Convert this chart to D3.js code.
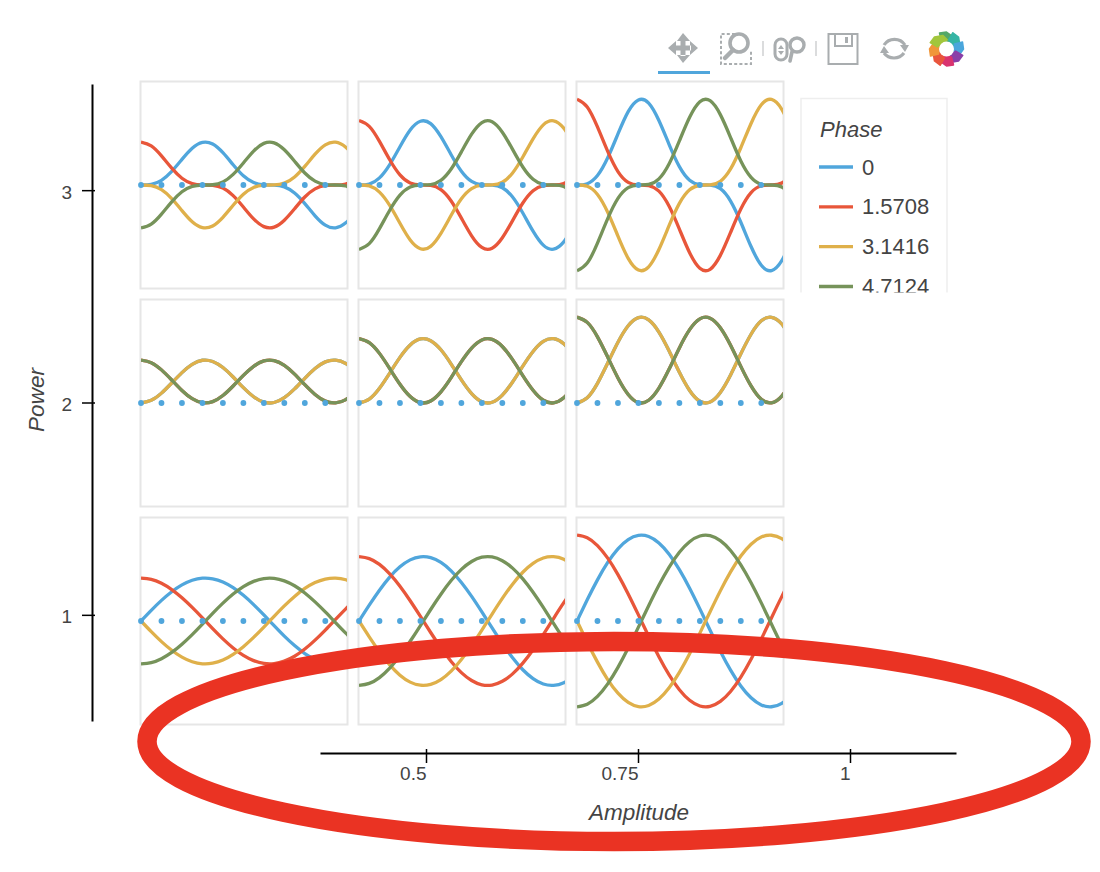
<!DOCTYPE html>
<html>
<head>
<meta charset="utf-8">
<script src="https://cdn.jsdelivr.net/npm/d3@7"></script>
<style>
html, body { margin: 0; padding: 0; background: #fff; }
text { font-family: "Liberation Sans", Arial, sans-serif; fill: #444; }
</style>
</head>
<body>
<div id="chart"></div>
<script>
// sample positions shared by every curve
var xs = [0, .25, .5, .75, 1, 1.25, 1.5, 1.75, 2, 2.25, 2.5, 2.75, 3, 3.25, 3.5, 3.75, 4, 4.25, 4.5, 4.75, 5, 5.25]
var dotXs = [0, .5, 1, 1.5, 2, 2.5, 3, 3.5, 4, 4.5]

var amplitudes = [0.5, 0.75, 1]
var powers = [3, 2, 1]
var phases = ['0', '1.5708', '3.1416', '4.7124']
var phaseColors = ['#50a6dc', '#e8563a', '#dfb04a', '#76935a']

// power 1
var p1a50Blue = [0, .124, .240, .341, .421, .475, .499, .492, .455, .389, .299, .191, .071, -.054, -.176, -.286, -.379, -.448, -.489, -.500, -.480, -.430]
var p1a50Red = [.500, .485, .439, .366, .270, .158, .036, -.089, -.208, -.314, -.401, -.462, -.495, -.497, -.468, -.411, -.327, -.223, -.106, .019, .142, .256]
var p1a50Yellow = [0, -.124, -.240, -.341, -.421, -.475, -.499, -.492, -.455, -.389, -.299, -.191, -.071, .054, .176, .286, .379, .448, .489, .500, .480, .430]
var p1a50Green = [-.500, -.485, -.439, -.366, -.270, -.158, -.036, .089, .208, .314, .401, .462, .495, .497, .468, .411, .327, .223, .106, -.019, -.142, -.256]

var p1a75Blue = [0, .185, .359, .512, .631, .712, .748, .738, .682, .584, .449, .287, .106, -.081, -.263, -.429, -.568, -.671, -.734, -.749, -.719, -.644]
var p1a75Red = [.750, .727, .659, .549, .405, .236, .053, -.134, -.312, -.471, -.601, -.693, -.743, -.746, -.702, -.616, -.491, -.335, -.158, .029, .213, .384]
var p1a75Yellow = [0, -.185, -.359, -.512, -.631, -.712, -.748, -.738, -.682, -.584, -.449, -.287, -.106, .081, .263, .429, .568, .671, .734, .749, .719, .644]
var p1a75Green = [-.750, -.727, -.659, -.549, -.405, -.236, -.053, .134, .312, .471, .601, .693, .743, .746, .702, .616, .491, .335, .158, -.029, -.213, -.384]

var p1a100Blue = [0, .247, .479, .682, .841, .949, .997, .984, .909, .778, .598, .382, .141, -.108, -.351, -.572, -.757, -.895, -.978, -.999, -.959, -.859]
var p1a100Red = [1, .969, .878, .732, .540, .315, .071, -.178, -.416, -.628, -.801, -.924, -.990, -.994, -.936, -.821, -.654, -.446, -.211, .038, .284, .512]
var p1a100Yellow = [0, -.247, -.479, -.682, -.841, -.949, -.997, -.984, -.909, -.778, -.598, -.382, -.141, .108, .351, .572, .757, .895, .978, .999, .959, .859]
var p1a100Green = [-1, -.969, -.878, -.732, -.540, -.315, -.071, .178, .416, .628, .801, .924, .990, .994, .936, .821, .654, .446, .211, -.038, -.284, -.512]

// power 2, yellow sits on blue and green sits on red
var p2a50Blue = [0, .031, .115, .233, .354, .450, .498, .484, .413, .303, .179, .073, .010, .006, .062, .164, .287, .401, .479, .499, .460, .369]
var p2a50Red = [.500, .470, .386, .268, .146, .050, .003, .016, .087, .198, .321, .427, .490, .494, .439, .337, .214, .100, .022, .001, .040, .131]
var p2a75Blue = [0, .046, .172, .349, .531, .675, .746, .726, .620, .454, .269, .110, .015, .009, .092, .245, .430, .601, .718, .749, .690, .554]
var p2a75Red = [.750, .704, .578, .401, .219, .075, .004, .024, .130, .296, .482, .640, .735, .741, .658, .505, .320, .149, .032, .001, .060, .197]
var p2a100Blue = [0, .061, .229, .465, .708, .900, .995, .968, .826, .605, .358, .146, .020, .012, .123, .327, .573, .801, .957, .998, .920, .738]
var p2a100Red = [1, .939, .771, .535, .292, .100, .005, .032, .174, .395, .642, .854, .980, .988, .877, .673, .427, .199, .043, .002, .080, .262]

// power 3
var p3a50Blue = [0, .008, .055, .159, .298, .428, .496, .477, .376, .236, .107, .028, .002, -.001, -.022, -.094, -.217, -.359, -.468, -.499, -.441, -.317]
var p3a50Red = [.500, .455, .339, .196, .079, .016, 0, -.003, -.036, -.124, -.257, -.395, -.485, -.491, -.410, -.277, -.140, -.045, -.005, 0, .012, .067]
var p3a50Yellow = [0, -.008, -.055, -.159, -.298, -.428, -.496, -.477, -.376, -.236, -.107, -.028, -.002, .001, .022, .094, .217, .359, .468, .499, .441, .317]
var p3a50Green = [-.500, -.455, -.339, -.196, -.079, -.016, 0, .003, .036, .124, .257, .395, .485, .491, .410, .277, .140, .045, .005, 0, -.012, -.067]

var p3a75Blue = [0, .011, .083, .238, .446, .641, .743, .715, .563, .353, .161, .042, .002, -.001, -.032, -.140, -.326, -.538, -.701, -.748, -.662, -.476]
var p3a75Red = [.750, .683, .508, .294, .118, .023, 0, -.005, -.054, -.186, -.386, -.592, -.728, -.737, -.615, -.415, -.210, -.067, -.007, 0, .017, .101]
var p3a75Yellow = [0, -.011, -.083, -.238, -.446, -.641, -.743, -.715, -.563, -.353, -.161, -.042, -.002, .001, .032, .140, .326, .538, .701, .748, .662, .476]
var p3a75Green = [-.750, -.683, -.508, -.294, -.118, -.023, 0, .005, .054, .186, .386, .592, .728, .737, .615, .415, .210, .067, .007, 0, -.017, -.101]

var p3a100Blue = [0, .015, .110, .317, .595, .855, .991, .953, .751, .471, .214, .056, .003, -.001, -.043, -.187, -.434, -.717, -.935, -.997, -.882, -.634]
var p3a100Red = [1, .910, .677, .392, .157, .031, 0, -.006, -.072, -.248, -.514, -.789, -.970, -.982, -.820, -.553, -.280, -.089, -.009, 0, .023, .134]
var p3a100Yellow = [0, -.015, -.110, -.317, -.595, -.855, -.991, -.953, -.751, -.471, -.214, -.056, -.003, .001, .043, .187, .434, .717, .935, .997, .882, .634]
var p3a100Green = [-1, -.910, -.677, -.392, -.157, -.031, 0, .006, .072, .248, .514, .789, .970, .982, .820, .553, .280, .089, .009, 0, -.023, -.134]

// rows top to bottom (power 3, 2, 1), columns left to right (amplitude)
var panelSeries = [
    [[p3a50Blue, p3a50Red, p3a50Yellow, p3a50Green], [p3a75Blue, p3a75Red, p3a75Yellow, p3a75Green], [p3a100Blue, p3a100Red, p3a100Yellow, p3a100Green]],
    [[p2a50Blue, p2a50Red, p2a50Blue, p2a50Red], [p2a75Blue, p2a75Red, p2a75Blue, p2a75Red], [p2a100Blue, p2a100Red, p2a100Blue, p2a100Red]],
    [[p1a50Blue, p1a50Red, p1a50Yellow, p1a50Green], [p1a75Blue, p1a75Red, p1a75Yellow, p1a75Green], [p1a100Blue, p1a100Red, p1a100Yellow, p1a100Green]]
]

var width = 1100, height = 872
var panelSize = 206, panelStep = 218, panelLeft = 141, panelTop = 82

var svg = d3.select('#chart').append('svg')
    .attr('width', width)
    .attr('height', height)
    .style('display', 'block')

var defs = svg.append('defs')
defs.append('clipPath').attr('id', 'panelClip')
    .append('rect').attr('width', panelSize).attr('height', panelSize)
defs.append('clipPath').attr('id', 'legendClip')
    .append('rect').attr('x', 795).attr('y', 90).attr('width', 160).attr('height', 202.5)

var x = d3.scaleLinear().domain([0, 5.03]).range([0, panelSize])
var y = d3.scaleLinear().domain([-1.2, 1.2]).range([panelSize, 0])
var line = d3.line()
    .x(function(d) { return x(d[0]) })
    .y(function(d) { return y(d[1]) })
    .curve(d3.curveNatural)

panelSeries.forEach(function(row, r) {
    row.forEach(function(series, c) {
        var g = svg.append('g')
            .attr('class', 'panel')
            .attr('transform', 'translate(' + (panelLeft + c * panelStep) + ',' + (panelTop + r * panelStep) + ')')

        g.append('rect')
            .attr('x', -0.5).attr('y', -0.5)
            .attr('width', panelSize + 1).attr('height', panelSize + 1)
            .attr('fill', '#fff')
            .attr('stroke', '#e6e6e6')
            .attr('stroke-width', 2)

        var inner = g.append('g').attr('clip-path', 'url(#panelClip)')

        inner.selectAll('path')
            .data(series)
            .enter()
            .append('path')
            .attr('d', function(vals) {
                return line(vals.map(function(v, i) { return [xs[i], v] }))
            })
            .attr('fill', 'none')
            .attr('stroke', function(d, i) { return phaseColors[i] })
            .attr('stroke-width', 3.3)

        g.selectAll('circle')
            .data(dotXs)
            .enter()
            .append('circle')
            .attr('cx', function(d) { return x(d) })
            .attr('cy', y(0))
            .attr('r', 2.9)
            .attr('fill', phaseColors[0])
    })
})

// outer axes
var powerScale = d3.scaleLinear().domain([0.5, 3.5]).range([721, 84])
var ampScale = d3.scaleLinear().domain([0.375, 1.125]).range([320, 956])

var leftAxis = svg.append('g')
    .attr('transform', 'translate(92,0)')
    .call(d3.axisLeft(powerScale).tickValues(powers).tickFormat(d3.format('d')).tickSize(10).tickSizeOuter(0))
leftAxis.select('.domain').attr('stroke', '#000').attr('stroke-width', 2)
leftAxis.selectAll('.tick line').attr('stroke', '#000').attr('stroke-width', 1.5).attr('x2', -10).attr('x1', 3)
leftAxis.selectAll('.tick text')
    .attr('x', -20).attr('dy', '0.42em')
    .style('font-size', '19px')
    .style('font-family', '"Liberation Sans", Arial, sans-serif')
    .attr('fill', '#444')

var bottomAxis = svg.append('g')
    .attr('transform', 'translate(0,753)')
    .call(d3.axisBottom(ampScale).tickValues(amplitudes).tickFormat(function(d) { return String(d) }).tickSize(10).tickSizeOuter(0))
bottomAxis.select('.domain').attr('stroke', '#000').attr('stroke-width', 2)
bottomAxis.selectAll('.tick line').attr('stroke', '#000').attr('stroke-width', 1.5).attr('y1', -4).attr('y2', 10)
bottomAxis.selectAll('.tick text')
    .attr('x', 0).attr('y', 20).attr('dy', '0.35em')
    .attr('text-anchor', 'end')
    .style('font-size', '19px')
    .style('font-family', '"Liberation Sans", Arial, sans-serif')
    .attr('fill', '#444')

svg.append('text')
    .attr('x', 639).attr('y', 820)
    .attr('text-anchor', 'middle')
    .style('font-size', '22.5px').style('font-style', 'italic')
    .text('Amplitude')

svg.append('text')
    .attr('transform', 'translate(44,400) rotate(-90)')
    .attr('text-anchor', 'middle')
    .style('font-size', '22.5px').style('font-style', 'italic')
    .text('Power')

// legend, cut off at the bottom like the original
var legend = svg.append('g').attr('clip-path', 'url(#legendClip)')
legend.append('rect')
    .attr('x', 801).attr('y', 98.5)
    .attr('width', 146).attr('height', 260)
    .attr('fill', '#fff')
    .attr('stroke', '#eeeeee')
    .attr('stroke-width', 1.5)
legend.append('text')
    .attr('x', 820).attr('y', 137)
    .style('font-size', '22px').style('font-style', 'italic')
    .text('Phase')

var legendY = d3.scalePoint().domain(phases).range([167, 286.5])
var legendRows = legend.selectAll('.row')
    .data(phases)
    .enter()
    .append('g')
    .attr('class', 'row')
    .attr('transform', function(d) { return 'translate(0,' + legendY(d) + ')' })
legendRows.append('line')
    .attr('x1', 819).attr('x2', 853)
    .attr('stroke', function(d, i) { return phaseColors[i] })
    .attr('stroke-width', 3.3)
legendRows.append('text')
    .attr('x', 862).attr('y', 7.5)
    .style('font-size', '22px')
    .text(function(d) { return d })

// toolbar
var toolGrey = '#a9adaf'
svg.append('rect')
    .attr('x', 658).attr('y', 71)
    .attr('width', 52).attr('height', 3)
    .attr('fill', '#50a6dc')

var tools = svg.append('g')
    .attr('fill', 'none')
    .attr('stroke', toolGrey)
    .style('filter', 'blur(0.5px)')

// pan
tools.append('path')
    .attr('d', 'M683 33L690 41H677ZM683 63L690 55H677ZM668 48L676 41V55ZM698 48L690 41V55Z M680.5 40H685.5V45.5H691V50.5H685.5V56H680.5V50.5H675V45.5H680.5Z')
    .attr('fill', toolGrey).attr('stroke', 'none')

// box zoom
tools.append('path')
    .attr('d', 'M735 34H721V64H751V50')
    .attr('stroke-width', 2).attr('stroke-dasharray', '3 2.2')
tools.append('circle').attr('cx', 739).attr('cy', 43).attr('r', 9).attr('stroke-width', 3.6)
tools.append('path').attr('d', 'M733 50L725 58').attr('stroke-width', 4.5).attr('stroke-linecap', 'round')

tools.append('path').attr('d', 'M763 41V56M816 41V56').attr('stroke', '#cfd1d2').attr('stroke-width', 1.5)

// wheel zoom
tools.append('rect')
    .attr('x', 775).attr('y', 39).attr('width', 12).attr('height', 21).attr('rx', 6)
    .attr('stroke-width', 3)
tools.append('path').attr('d', 'M781 45L784 49H778ZM781 55L784 51H778Z').attr('fill', toolGrey).attr('stroke', 'none')
tools.append('circle').attr('cx', 797).attr('cy', 45).attr('r', 7).attr('stroke-width', 3.4)
tools.append('path').attr('d', 'M792 52L790 61').attr('stroke-width', 3.6).attr('stroke-linecap', 'round')

// save
tools.append('rect').attr('x', 828.5).attr('y', 34).attr('width', 29).attr('height', 30).attr('stroke-width', 2)
tools.append('path').attr('d', 'M835 34V46H852V34').attr('stroke-width', 2)
tools.append('rect').attr('x', 845).attr('y', 37).attr('width', 3).attr('height', 6).attr('fill', toolGrey).attr('stroke', 'none')

// reset
tools.append('path').attr('d', 'M884 45A12.5 12.5 0 0 1 905 45M904 53A12.5 12.5 0 0 1 884 53').attr('stroke-width', 3.2)
tools.append('path').attr('d', 'M900 45H909L905 52ZM880 53H889L884 46Z').attr('fill', toolGrey).attr('stroke', 'none')

// logo
var logoColors = ['#55a868', '#36b5a5', '#4aa6dc', '#8a3fa8', '#d9336f', '#e9553d', '#f0963a', '#a2c63c']
var logo = svg.append('g')
    .attr('transform', 'translate(946.5,49)')
    .style('filter', 'blur(0.6px)')
logo.selectAll('path')
    .data(logoColors)
    .enter()
    .append('path')
    .attr('d', 'M-7 -16L0 -17L7 -12L7 -6L-5 -8Z')
    .attr('fill', function(d) { return d })
    .attr('stroke', function(d) { return d })
    .attr('stroke-width', 1.5)
    .attr('stroke-linejoin', 'round')
    .attr('transform', function(d, i) { return 'rotate(' + (i * 45) + ')' })
logo.append('circle').attr('r', 7.5).attr('fill', '#fff')

// red marker ring over the bottom of the chart
svg.append('ellipse')
    .attr('cx', 614).attr('cy', 741.5)
    .attr('rx', 467).attr('ry', 100)
    .attr('fill', 'none')
    .attr('stroke', '#ea3323')
    .attr('stroke-width', 19.5)
</script>
</body>
</html>
